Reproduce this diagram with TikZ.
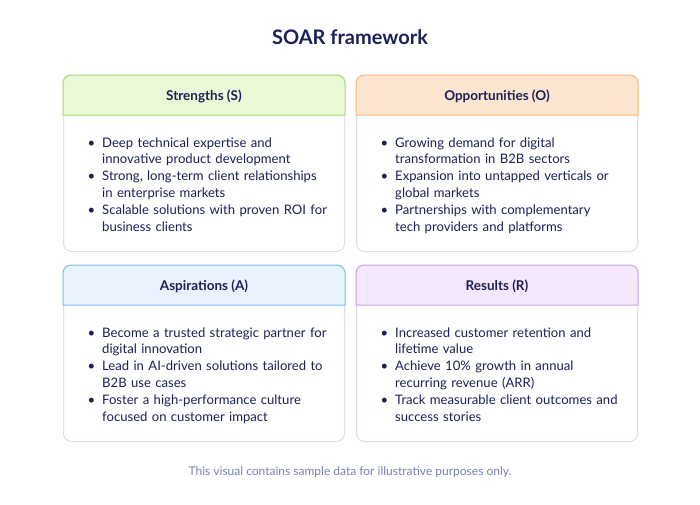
\documentclass[tikz,border=0pt]{standalone}
\usepackage{fontspec}
\setmainfont{Lato}
\usepackage{enumitem}
\usetikzlibrary{positioning}
\definecolor{soarnavy}{RGB}{28, 32, 88}
\definecolor{soarnote}{RGB}{122, 128, 184}
\definecolor{soaredge}{RGB}{221, 222, 243}
\definecolor{sfill}{RGB}{235, 249, 214}
\definecolor{sedge}{RGB}{166, 216, 110}
\definecolor{ofill}{RGB}{253, 230, 207}
\definecolor{oedge}{RGB}{247, 182, 128}
\definecolor{afill}{RGB}{231, 244, 255}
\definecolor{aedge}{RGB}{122, 186, 250}
\definecolor{rfill}{RGB}{245, 231, 252}
\definecolor{redge}{RGB}{202, 162, 236}

\tikzset{
  soarbox/.style={draw=soaredge, fill=white, line width=1pt, rounded corners=8pt,
    minimum width=281pt, minimum height=176pt, anchor=north west, inner sep=0pt},
  soarhead/.style={font=\fontsize{13.5}{15}\selectfont\bfseries, text=soarnavy},
  soarlist/.style={text width=250pt, align=left, inner sep=0pt, text=soarnavy,
    font=\fontsize{13.1}{16.8}\selectfont},
}
\newcommand{\headpanel}[3]{%
  \path[fill=#2, draw=#3, line width=1pt]
    ([yshift=-40pt]#1.north west) [rounded corners=8pt] -- (#1.north west)
    -- (#1.north east) [sharp corners] -- ([yshift=-40pt]#1.north east) -- cycle;}
\newenvironment{soaritems}{\begin{itemize}[leftmargin=11pt, labelsep=7pt,
  itemsep=0pt, topsep=0pt, parsep=0pt, partopsep=0pt, label=\textbullet]}{\end{itemize}}

\begin{document}
\begin{tikzpicture}[x=1pt, y=-1pt]
  \useasboundingbox[fill=white] (0,0) rectangle (700,504);

  \node[font=\fontsize{20}{24}\selectfont\bfseries, text=soarnavy] (title) at (350,37) {SOAR framework};

  % strengths
  \node[soarbox] (S-box) at (63,75) {};
  \headpanel{S-box}{sfill}{sedge}
  \node[soarhead] (S-head) at ([yshift=-21pt]S-box.north) {Strengths (S)};
  \node[soarlist, below right=55pt and 28pt of S-box.north west] (S-list) {
    \begin{soaritems}
      \item Deep technical expertise and\newline innovative product development
      \item Strong, long-term client relationships\newline in enterprise markets
      \item Scalable solutions with proven ROI for\newline business clients
    \end{soaritems}};

  % opportunities
  \node[soarbox] (O-box) at (356,75) {};
  \headpanel{O-box}{ofill}{oedge}
  \node[soarhead] (O-head) at ([yshift=-21pt]O-box.north) {Opportunities (O)};
  \node[soarlist, below right=55pt and 28pt of O-box.north west] (O-list) {
    \begin{soaritems}
      \item Growing demand for digital\newline transformation in B2B sectors
      \item Expansion into untapped verticals or\newline global markets
      \item Partnerships with complementary\newline tech providers and platforms
    \end{soaritems}};

  % aspirations
  \node[soarbox] (A-box) at (63,265) {};
  \headpanel{A-box}{afill}{aedge}
  \node[soarhead] (A-head) at ([yshift=-21pt]A-box.north) {Aspirations (A)};
  \node[soarlist, below right=55pt and 28pt of A-box.north west] (A-list) {
    \begin{soaritems}
      \item Become a trusted strategic partner for\newline digital innovation
      \item Lead in AI-driven solutions tailored to\newline B2B use cases
      \item Foster a high-performance culture\newline focused on customer impact
    \end{soaritems}};

  % results
  \node[soarbox] (R-box) at (356,265) {};
  \headpanel{R-box}{rfill}{redge}
  \node[soarhead] (R-head) at ([yshift=-21pt]R-box.north) {Results (R)};
  \node[soarlist, below right=55pt and 28pt of R-box.north west] (R-list) {
    \begin{soaritems}
      \item Increased customer retention and\newline lifetime value
      \item Achieve 10\% growth in annual\newline recurring revenue (ARR)
      \item Track measurable client outcomes and\newline success stories
    \end{soaritems}};

  \node[font=\fontsize{12}{14}\selectfont, text=soarnote] (note) at (350,472)
    {This visual contains sample data for illustrative purposes only.};
\end{tikzpicture}
\end{document}
